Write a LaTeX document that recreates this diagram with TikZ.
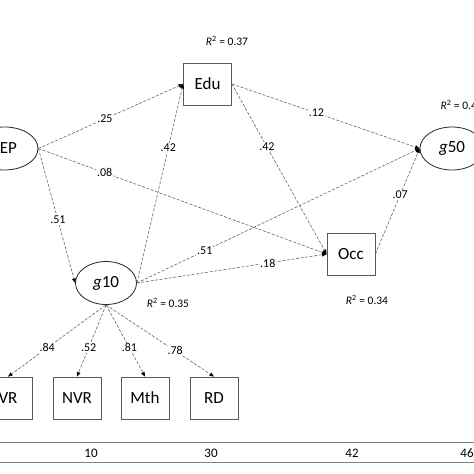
\documentclass[tikz,border=0pt]{standalone}
\usepackage{fontspec}
\setmainfont{Carlito}
\usetikzlibrary{arrows.meta,shapes.geometric}

\begin{document}
\begin{tikzpicture}[x=1pt,y=-1pt,
  obs/.style={draw=black!65,line width=.8pt,minimum width=48pt,minimum height=42pt,
    inner sep=0pt,font=\fontsize{17}{17}\selectfont},
  lat/.style={draw=black!85,ellipse,line width=.8pt,inner sep=0pt,
    font=\fontsize{17}{17}\selectfont},
  link/.style={draw=black!60,dash pattern=on 3pt off 1.6pt,line width=.6pt,
    -{Triangle[length=4.5pt,width=3.6pt,color=black]}},
  coef/.style={fill=white,inner sep=1pt,font=\fontsize{12}{12}\selectfont,pos=#1},
  coef/.default=.5,
  rsq/.style={font=\fontsize{11.5}{12}\selectfont},
  rule/.style={draw=black!50,line width=.8pt}]
 \useasboundingbox (0,0) rectangle (474,474);
 \fill[white] (0,0) rectangle (474,474);
 \clip (0,0) rectangle (474,474);
 % latent and observed variables
 \node[lat,minimum width=67pt,minimum height=43pt] (sep) at (4.5,148.5) {SEP};
 \node[lat,minimum width=61pt,minimum height=43pt] (g10) at (106,283) {\textit{g}10};
 \node[lat,minimum width=64pt,minimum height=43pt] (g50) at (452,148.5) {\textit{g}50};
 \node[obs] (edu) at (207.5,84) {Edu};
 \node[obs] (occ) at (351,254) {Occ};
 \node[obs] (vr) at (8,398) {VR};
 \node[obs] (nvr) at (77,398) {NVR};
 \node[obs] (mth) at (145,398) {Mth};
 \node[obs] (rd) at (214,398) {RD};
 % explained variance
 \node[rsq] (r2edu) at (227,41) {\textit{R}\textsuperscript{2} = 0.37};
 \node[rsq,anchor=west] (r2g50) at (437,105) {\textit{R}\textsuperscript{2} = 0.4};
 \node[rsq] (r2g10) at (168,303) {\textit{R}\textsuperscript{2} = 0.35};
 \node[rsq] (r2occ) at (367,300) {\textit{R}\textsuperscript{2} = 0.34};
 % structural paths
 \draw[link] (sep.east) -- node[coef=.46] {.25} (edu.west);
 \draw[link] (sep.east) -- node[coef=.23] {.08} (occ.west);
 \draw[link] (sep.east) -- node[coef=.53] {.51} (g10.west);
 \draw[link] (g10.east) -- node[coef=.68] {.42} (edu.west);
 \draw[link] (g10.east) -- node[coef=.24] {.51} (g50.west);
 \draw[link] (g10.east) -- node[coef=.69] {.18} (occ.west);
 \draw[link] (edu.east) -- node[coef=.45] {.12} (g50.west);
 \draw[link] (edu.east) -- node[coef=.37] {.42} (occ.west);
 \draw[link] (occ.east) -- node[coef=.56] {.07} (g50.west);
 % measurement paths
 \draw[link] (g10.south) -- node[coef=.6] {.84} (vr.north);
 \draw[link] (g10.south) -- node[coef=.6] {.52} (nvr.north);
 \draw[link] (g10.south) -- node[coef=.6] {.81} (mth.north);
 \draw[link] (g10.south) -- node[coef=.64] {.78} (rd.north);
 % age axis
 \draw[rule] (0,442) -- (474,442);
 \draw[rule] (0,462) -- (474,462);
 \node[font=\fontsize{13}{13}\selectfont] (age10) at (91,453) {10};
 \node[font=\fontsize{13}{13}\selectfont] (age30) at (211,453) {30};
 \node[font=\fontsize{13}{13}\selectfont] (age42) at (352,453) {42};
 \node[font=\fontsize{13}{13}\selectfont] (age46) at (467,453) {46};
\end{tikzpicture}
\end{document}
